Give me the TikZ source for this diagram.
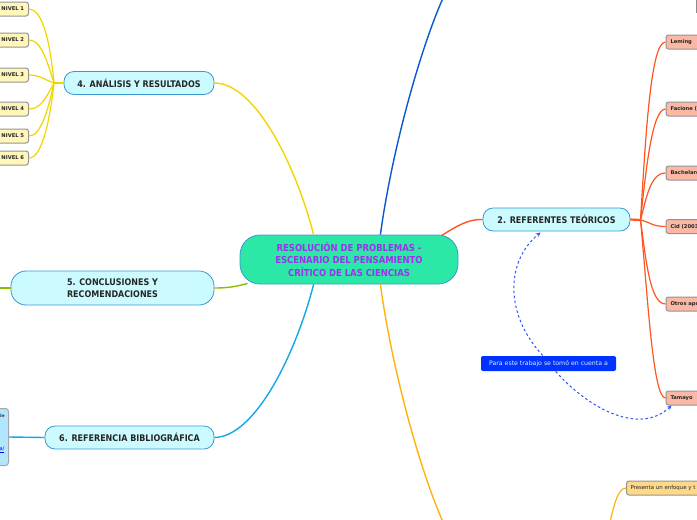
\documentclass[tikz,border=0pt]{standalone}
\usepackage{fontspec}
\usepackage{xcolor}
\setmainfont{DejaVu Sans}
\newfontfamily\condfont[FakeStretch=0.88]{DejaVu Sans Bold}
\usepackage{tikz}
\definecolor{maingreen}{HTML}{2BE8A6}
\definecolor{mainpurple}{HTML}{A030F0}
\definecolor{topicfill}{HTML}{CCFBFF}
\definecolor{topicline}{HTML}{3A98D2}
\definecolor{nivelfill}{HTML}{FFF6BA}
\definecolor{reffill}{HTML}{FBB9A5}
\definecolor{enfoquefill}{HTML}{FFD98A}
\definecolor{bibliofill}{HTML}{B0E6FF}
\definecolor{notafill}{HTML}{0033FF}
\definecolor{yellowline}{HTML}{F2D500}
\definecolor{redline}{HTML}{FF5520}
\definecolor{blueline}{HTML}{0A58D0}
\definecolor{amberline}{HTML}{FFB30A}
\definecolor{skyline}{HTML}{12A8E8}
\definecolor{greenline}{HTML}{8CBE00}
\tikzset{
  mainbox/.style={draw=topicline, fill=maingreen, rounded corners=20pt, thick,
    minimum width=218pt, minimum height=49pt, align=center, text=mainpurple,
    font=\condfont\fontsize{9.6}{12.6}\selectfont},
  topicbox/.style={draw=topicline, fill=topicfill, rounded corners=10pt, thick,
    minimum height=23pt, align=center, text=black!85,
    font=\condfont\fontsize{9.1}{11.4}\selectfont},
  leafbox/.style={draw=black!42, rounded corners=2.5pt, line width=1pt,
    minimum height=14pt, inner sep=0pt, text=black!85, text height=3.4pt, text depth=0pt,
    font=\bfseries\fontsize{5.2}{6}\selectfont},
  branch/.style={line width=1.4pt},
  twig/.style={line width=1.2pt},
  hubline/.style={line width=2.2pt},
  notelink/.style={line width=1pt, dash pattern=on 2.5pt off 2.5pt, notafill!85!white, -stealth}
}
\begin{document}
\begin{tikzpicture}[x=1pt, y=-1pt]
    \useasboundingbox (0,0) rectangle (697,520);
    \clip (0,0) rectangle (697,520);

    \node[mainbox] (main) at (349,259.5) {RESOLUCIÓN DE PROBLEMAS -\\ESCENARIO DEL PENSAMIENTO\\CRÍTICO DE LAS CIENCIAS};

    % topics
    \node[topicbox, minimum width=150pt] (analisis) at (139,83) {4. ANÁLISIS Y RESULTADOS};
    \node[topicbox, minimum width=203pt, minimum height=34pt, rounded corners=15pt] (conclusiones) at (112.5,288) {5. CONCLUSIONES Y\\RECOMENDACIONES};
    \node[topicbox, minimum width=169pt] (referencia) at (129.5,437.5) {6. REFERENCIA BIBLIOGRÁFICA};
    \node[topicbox, minimum width=147pt] (referentes) at (556.5,219.5) {2. REFERENTES TEÓRICOS};

    \coordinate (hubniv) at (54,83);
    \coordinate (hubref) at (640.5,220);
    \coordinate (topblue) at (443,-2);
    \coordinate (botamber) at (443,522);
    \coordinate (amberleaf) at (610,522);
    \coordinate (greenend) at (-1,288);
    \coordinate (tipref) at (540.5,232.5);
    \coordinate (tiptam) at (671.5,405.5);
    \coordinate (startref) at (542.7,355.5);
    \coordinate (starttam) at (555.7,371.5);

    % main branches
    \draw[branch, yellowline] (main.north west) ++(74,0) .. controls +(-18,-70) and (255,83) .. (analisis.east);
    \draw[branch, greenline] (main.south west) ++(8,-1) .. controls (235,287) and (226,288) .. (conclusiones.east);
    \draw[branch, skyline] (main.south west) ++(74,0) .. controls +(-18,70) and (255,437) .. (referencia.east);
    \draw[branch, redline] (main.north east) ++(-17,1) .. controls (457,226) and (468,219) .. (referentes.west);
    \draw[branch, blueline] (main.north east) ++(-78,0) .. controls (392,150) and (420,50) .. (topblue);
    \draw[branch, amberline] (main.south east) ++(-78,0) .. controls (392,370) and (420,470) .. (botamber);

    % niveles
    \foreach \name/\txt/\y/\ax/\ay/\bx in {a/NIVEL 1/9/50/40/42, b/NIVEL 2/40/48/65/42, c/NIVEL 3/75/45/80/40, d/NIVEL 4/109/45/100/40, e/NIVEL 5/136/48/110/41, f/NIVEL 6/158/50/120/42} {
      \node[leafbox, fill=nivelfill, anchor=east, minimum width=50pt, text width=41pt, align=right] (niv\name) at (29,\y) {\txt};
      \draw[twig, yellowline] (hubniv) .. controls (\ax,\ay) and (\bx,\y) .. (niv\name.east);
    }
    \draw[hubline, yellowline] (analisis.west) -- (hubniv);

    % referentes
    \foreach \name/\txt/\y/\ax/\ay/\bx in {leming/Leming/42/646/130/651, facione/Facione (/109/646/170/652, bachelard/Bachelard/173/646/200/650, cid/Cid (2003/226.5/650/222/652, otros/Otros apo/304/646/260/650, tamayo/Tamayo/398/648/300/653} {
      \node[leafbox, fill=reffill, anchor=west, minimum width=50pt, text width=41pt, align=left] (\name) at (665.5,\y) {\txt};
      \draw[twig, redline] (hubref) .. controls (\ax,\ay) and (\bx,\y) .. (\name.west);
    }
    \draw[hubline, redline] (referentes.east) -- (hubref);

    % cropped nodes at the edges
    \node[leafbox, fill=enfoquefill, anchor=west, minimum width=120pt, text width=112pt, align=left, font=\fontsize{5.4}{6}\selectfont] (enfoque) at (626,488) {Presenta un enfoque y t};
    \draw[twig, amberline] (amberleaf) .. controls (614,505) and (618,488) .. (enfoque.west);

    \node[draw=black!35, fill=bibliofill, rounded corners=3pt, line width=1pt, anchor=east, minimum width=40pt, minimum height=57pt] (biblio) at (9,437) {};
    \node[font=\bfseries\fontsize{4.4}{6}\selectfont, anchor=east, inner sep=0pt, text=black!75] (biblioa) at (5,416) {de};
    \node[font=\fontsize{5}{6}\selectfont, anchor=east, inner sep=0pt, text=blue] (bibliob) at (4.5,450) {\underline{a/}};
    \draw[branch, skyline] (referencia.west) -- (biblio.east);

    \draw[line width=2.6pt, greenline] (conclusiones.west) -- (greenend);
    \node[draw=black!45, line width=1pt, anchor=west, minimum width=20pt, minimum height=24pt] (toprefbox) at (696,0) {};

    % note
    \node[fill=notafill, rounded corners=2pt, minimum width=135pt, minimum height=15pt, inner sep=0pt, text=white!85!cyan, font=\fontsize{6.2}{7}\selectfont] (nota) at (548.5,363.5) {Para este trabajo se tomó en cuenta a};
    \draw[notelink] (startref) .. controls (505,315) and (505,262) .. (tipref);
    \draw[notelink] (starttam) .. controls (590,410) and (640,435) .. (tiptam);
\end{tikzpicture}
\end{document}
